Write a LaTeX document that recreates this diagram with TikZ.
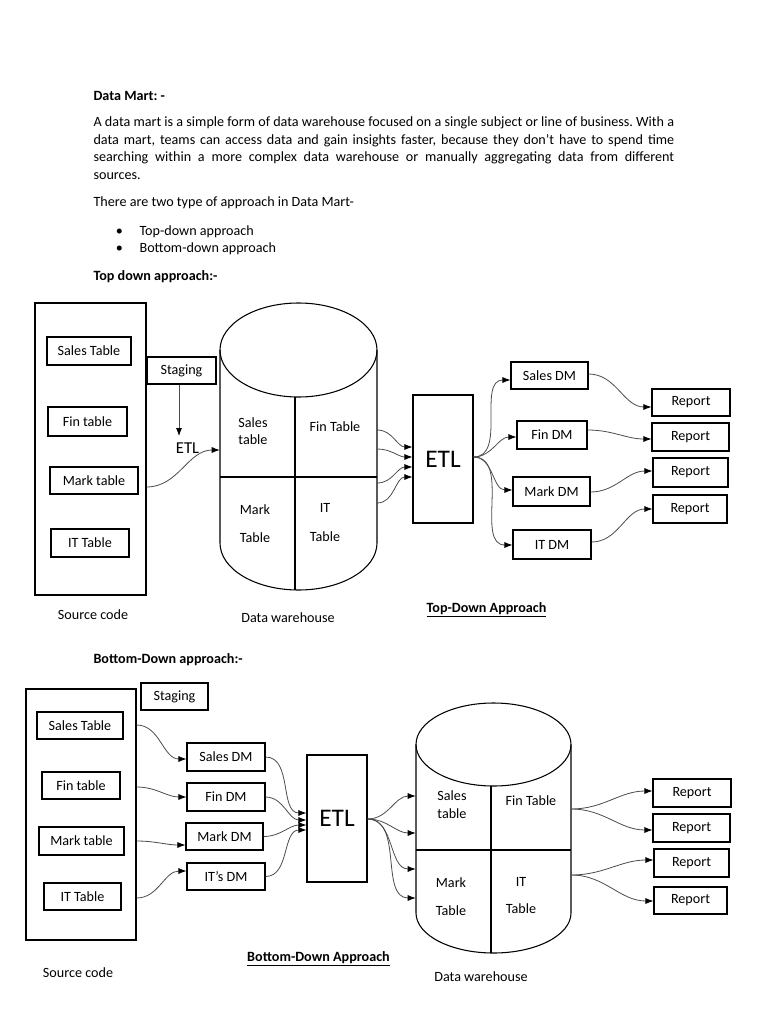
\documentclass[tikz,border=0pt]{standalone}
\usepackage{fontspec}
\setmainfont{Carlito}
\usetikzlibrary{arrows.meta,fit}
\frenchspacing
\begin{document}
\begin{tikzpicture}[x=0.75pt,y=-0.75pt,
  every node/.style={font=\fontsize{10.6}{12.9}\selectfont},
  bx/.style 2 args={draw, line width=0.8pt, inner sep=0pt, minimum width=#1*0.75pt, minimum height=#2*0.75pt},
  txt/.style={inner sep=0pt, anchor=base west},
  lbl/.style={inner sep=0pt, align=center},
  conn/.style={draw=black!70, line width=0.6pt, -{Latex[length=6pt,width=4.5pt,color=black]}},
  cyl/.style={draw, line width=0.8pt},
  bigetl/.style={font=\fontsize{19}{22}\selectfont}
]
\fill[white] (0,0) rectangle (768,1024);
\useasboundingbox (0,0) rectangle (768,1024);

% ---------- text block ----------
\node[txt] (h1) at (93.3,100) {\bfseries Data Mart: -};
\node[txt] (p1) at (93.3,126.7) {\makebox[435.5pt][s]{A data mart is a simple form of data warehouse focused on a single subject or line of business. With a}};
\node[txt] (p2) at (93.3,144.3) {\makebox[435.5pt][s]{data mart, teams can access data and gain insights faster, because they don’t have to spend time}};
\node[txt] (p3) at (93.3,161.7) {\makebox[435.5pt][s]{searching within a more complex data warehouse or manually aggregating data from different}};
\node[txt] (p4) at (93.3,179) {sources.};
\node[txt] (p5) at (93.3,206.7) {There are two type of approach in Data Mart-};
\node[inner sep=0pt, anchor=base] (b1) at (119.3,235) {\textbullet};
\node[inner sep=0pt, anchor=base] (b2) at (119.3,252.7) {\textbullet};
\node[txt] (l1) at (139.3,235) {Top-down approach};
\node[txt] (l2) at (139.3,252.7) {Bottom-down approach};
\node[txt] (h2) at (93.3,280) {\bfseries Top down approach:-};
\node[txt] (h3) at (93.3,663.3) {\bfseries Bottom-Down approach:-};

% ---------- top diagram ----------
\node[bx={111}{292}] (srcA) at (90.5,449) {};
\node[bx={84}{28}] (st1) at (89,351) {Sales Table};
\node[bx={79}{29}] (ft1) at (87.5,421.5) {Fin table};
\node[bx={88}{27}] (mt1) at (94,480.5) {Mark table};
\node[bx={78}{28}] (it1) at (90,543) {IT Table};
\node[lbl] (sc1) at (93,615) {Source code};
\node[bx={69}{27}] (stg1) at (181.5,370.5) {Staging};
\node[lbl, font=\fontsize{12.5}{14}\selectfont] (etlA) at (187.5,448) {ETL};
\draw[conn] (stg1.south -| 179,0) -- (179,436);

% cylinder 1
\node[fit={(220,303) (377,590)}, inner sep=0pt] (dw1) {};
\draw[cyl] (298.5,350) ellipse [x radius=58.875pt, y radius=35.25pt];
\draw[cyl] (220,350) -- (220,543) .. controls (220,569) and (255.1,590) .. (298.5,590)
  .. controls (341.9,590) and (377,569) .. (377,543) -- (377,350);
\draw[cyl] (295,397) -- (295,590);
\draw[cyl] (220,477) -- (377,477);
\node[lbl, font=\fontsize{10.6}{12.9}\selectfont] (c1a) at (253,431.5) {Sales\\table};
\node[lbl] (c1b) at (335,427) {Fin Table};
\node[lbl] (c1c) at (255,510) {Mark};
\node[lbl] (c1d) at (255,538) {Table};
\node[lbl] (c1e) at (325,508) {IT};
\node[lbl] (c1f) at (325,537) {Table};
\node[lbl] (dwl1) at (288,618) {Data warehouse};

\draw[conn] (srcA.east |- 0,487) to[out=0,in=180] (dw1.west |- 0,450);

\node[bx={60}{128}, bigetl] (etlT) at (443,459) {ETL};
\draw[conn] (dw1.east |- 0,430) to[out=0,in=180] (etlT.west |- 0,447);
\draw[conn] (dw1.east |- 0,449) to[out=0,in=180] (etlT.west |- 0,457);
\draw[conn] (dw1.east |- 0,483) to[out=0,in=180] (etlT.west |- 0,467);
\draw[conn] (dw1.east |- 0,503) to[out=0,in=180] (etlT.west |- 0,477);

\node[bx={77}{27}] (sdm1) at (549.5,375.5) {Sales DM};
\node[bx={70}{28}] (fdm1) at (552,435) {Fin DM};
\node[bx={77}{29}] (mdm1) at (551.5,491.5) {Mark DM};
\node[bx={78}{29}] (idm1) at (552,544.5) {IT DM};

\draw[conn] (etlT.east |- 0,457) to[out=0,in=180] (sdm1.west |- 0,380);
\draw[conn] (etlT.east |- 0,457) to[out=0,in=180] (fdm1.west |- 0,437);
\draw[conn] (etlT.east |- 0,457) to[out=0,in=180] (mdm1.west |- 0,490);
\draw[conn] (etlT.east |- 0,457) to[out=0,in=180] (idm1.west |- 0,545);

\node[bx={78}{27}] (r1) at (691,402.5) {Report};
\node[bx={77}{28}] (r2) at (690.5,437) {Report};
\node[bx={75}{29}] (r3) at (690.5,472.5) {Report};
\node[bx={74}{28}] (r4) at (690,509) {Report};

\draw[conn] (sdm1.east |- 0,374) to[out=0,in=180] (r1.west |- 0,407);
\draw[conn] (fdm1.east |- 0,430) to[out=0,in=180] (r2.west |- 0,439);
\draw[conn] (mdm1.east |- 0,492) to[out=0,in=180] (r3.west |- 0,471);
\draw[conn] (idm1.east |- 0,542) to[out=0,in=180] (r4.west |- 0,509);

\node[lbl] (tda) at (486.5,610) {\bfseries\underline{Top-Down Approach}};

% ---------- bottom diagram ----------
\node[bx={110}{251}] (srcB) at (81,814.5) {};
\node[bx={67}{27}] (stg2) at (174.5,696.5) {Staging};
\node[bx={86}{27}] (st2) at (80,725.5) {Sales Table};
\node[bx={78}{27}] (ft2) at (81,785.5) {Fin table};
\node[bx={85}{28}] (mt2) at (81.5,841) {Mark table};
\node[bx={77}{27}] (it2) at (82.5,896.5) {IT Table};
\node[lbl] (sc2) at (78,973) {Source code};

\node[bx={78}{28}] (sdm2) at (226,757) {Sales DM};
\node[bx={78}{28}] (fdm2) at (226,797) {Fin DM};
\node[bx={77}{27}] (mdm2) at (224.5,836.5) {Mark DM};
\node[bx={78}{27}] (idm2) at (226,876.5) {IT’s DM};

\draw[conn] (srcB.east |- 0,725) to[out=0,in=180] (sdm2.west |- 0,759);
\draw[conn] (srcB.east |- 0,787) to[out=0,in=180] (fdm2.west |- 0,797);
\draw[conn] (srcB.east |- 0,841) to[out=0,in=180] (mdm2.west |- 0,845);
\draw[conn] (srcB.east |- 0,898) to[out=0,in=180] (idm2.west |- 0,871);

\node[bx={60}{127}, bigetl] (etlB) at (337,818.5) {ETL};
\draw[conn] (sdm2.east) to[out=0,in=180] (etlB.west |- 0,813);
\draw[conn] (fdm2.east) to[out=0,in=180] (etlB.west |- 0,820);
\draw[conn] (mdm2.east) to[out=0,in=180] (etlB.west |- 0,825);
\draw[conn] (idm2.east) to[out=0,in=180] (etlB.west |- 0,830);

% cylinder 2
\node[fit={(416,703) (571,953)}, inner sep=0pt] (dw2) {};
\draw[cyl] (493.5,744.5) ellipse [x radius=58.125pt, y radius=31.125pt];
\draw[cyl] (416,744.5) -- (416,913) .. controls (416,935.1) and (450.7,953) .. (493.5,953)
  .. controls (536.3,953) and (571,935.1) .. (571,913) -- (571,744.5);
\draw[cyl] (491,786) -- (491,953);
\draw[cyl] (416,850) -- (571,850);
\node[lbl, font=\fontsize{10.6}{13.5}\selectfont] (c2a) at (452,805) {Sales\\table};
\node[lbl] (c2b) at (531,801) {Fin Table};
\node[lbl] (c2c) at (451,883) {Mark};
\node[lbl] (c2d) at (451,911) {Table};
\node[lbl] (c2e) at (521,882) {IT};
\node[lbl] (c2f) at (521,909) {Table};
\node[lbl] (dwl2) at (481,977) {Data warehouse};

\draw[conn] (etlB.east |- 0,819) to[out=0,in=180] (dw2.west |- 0,796);
\draw[conn] (etlB.east |- 0,819) to[out=0,in=180] (dw2.west |- 0,833);
\draw[conn] (etlB.east |- 0,819) to[out=0,in=180] (dw2.west |- 0,869);
\draw[conn] (etlB.east |- 0,819) to[out=0,in=180] (dw2.west |- 0,898);

\node[bx={78}{28}] (r5) at (692,793) {Report};
\node[bx={77}{28}] (r6) at (691.5,828) {Report};
\node[bx={75}{28}] (r7) at (691.5,863) {Report};
\node[bx={73}{27}] (r8) at (690.5,900.5) {Report};

\draw[conn] (dw2.east |- 0,809) to[out=0,in=180] (r5.west |- 0,791);
\draw[conn] (dw2.east |- 0,809) to[out=0,in=180] (r6.west |- 0,830);
\draw[conn] (dw2.east |- 0,875) to[out=0,in=180] (r7.west |- 0,860);
\draw[conn] (dw2.east |- 0,875) to[out=0,in=180] (r8.west |- 0,901);

\node[lbl] (bda) at (318.5,959) {\bfseries\underline{Bottom-Down Approach}};
\end{tikzpicture}
\end{document}
